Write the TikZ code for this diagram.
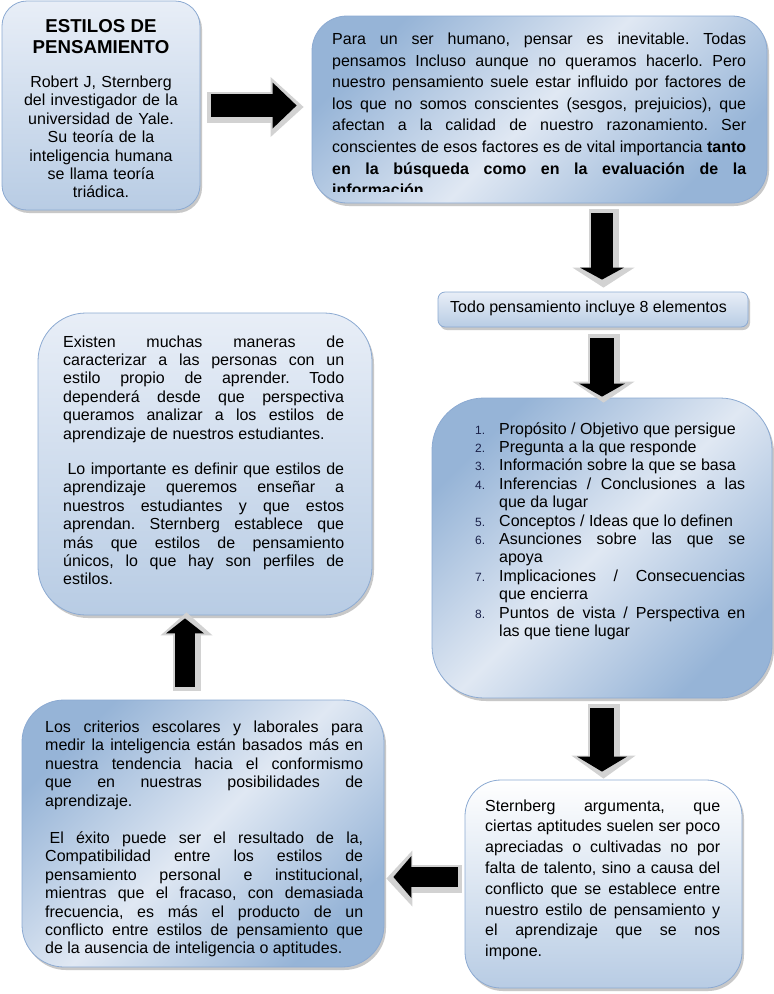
\documentclass[tikz,border=0pt]{standalone}
\usepackage{fontspec}
\setmainfont{Liberation Sans}
\usetikzlibrary{arrows.meta,shadows}
\setlength{\parindent}{0pt}
\frenchspacing

\definecolor{bordeazul}{RGB}{140,170,210}
\definecolor{azulclaro}{RGB}{232,238,247}
\definecolor{azuloscuro}{RGB}{184,204,228}
\definecolor{azuldiag}{RGB}{150,180,215}
\definecolor{azulmedio}{RGB}{224,232,243}
\definecolor{numazul}{RGB}{25,32,72}

\newcommand{\elem}[1]{\hangindent=24pt\hangafter=1\makebox[24pt][l]{\fontsize{12}{12}\selectfont\color{numazul}#1.}}

\tikzset{
  caja/.style={draw=bordeazul, line width=0.8pt, inner sep=0pt, rounded corners=#1,
    drop shadow={shadow xshift=2pt, shadow yshift=-3pt, opacity=0.3, fill=black!70}},
  vgrad/.style={top color=azulclaro, bottom color=azuloscuro},
  dgrad/.style={left color=azuldiag, right color=azuldiag, middle color=azulmedio, shading angle=45},
  texto/.style={inner sep=0pt, anchor=base west, align=justify, font=\fontsize{16}{18.4}\selectfont},
  flecha/.style={draw=black, line width=#1},
  sombra/.style={draw=gray!35, line width=#1},
}

\begin{document}
\begin{tikzpicture}[x=1pt, y=-1pt]
    \path[fill=white, use as bounding box] (0,0) rectangle (774,994);

    % cajas
    \node[caja=25pt, vgrad, minimum width=198pt, minimum height=209pt] (titulo) at (101,105.5) {};
    \node[caja=35pt, dgrad, minimum width=455pt, minimum height=187pt] (pensar) at (539.5,109.5) {};
    \node[caja=7pt, vgrad, minimum width=310pt, minimum height=35pt] (todo) at (593,309.5) {};
    \node[caja=52pt, dgrad, minimum width=340pt, minimum height=300pt] (elementos) at (602,548) {};
    \node[caja=36pt, vgrad, top color=white, minimum width=277pt, minimum height=208pt] (sternberg) at (603.5,884) {};
    \node[caja=42pt, dgrad, minimum width=362pt, minimum height=267pt] (criterios) at (203,833.5) {};
    \node[caja=48pt, vgrad, minimum width=334pt, minimum height=302pt] (existen) at (205,464) {};

    % textos
    \node[texto, anchor=base, align=center, text width=192pt] (ttitulo) at (101,32)
        {{\bfseries\fontsize{18.67}{21.5}\selectfont ESTILOS DE\\PENSAMIENTO\par}\vspace{15.6pt}%
        Robert J, Sternberg\\del investigador de la\\universidad de Yale.\\Su teoría de la\\%
        inteligencia humana\\se llama teoría\\triádica.};
    \begin{scope}
        \clip (300,0) rectangle (774,191.5);
        \node[texto, font=\fontsize{16}{21.6}\selectfont, text width=414pt] (tpensar) at (332,44.5)
            {Para un ser humano, pensar es inevitable. Todas\linebreak
            pensamos Incluso aunque no queramos hacerlo. Pero\linebreak
            nuestro pensamiento suele estar influido por factores de\linebreak
            los que no somos conscientes (sesgos, prejuicios), que\linebreak
            afectan a la calidad de nuestro razonamiento. Ser\linebreak
            conscientes de esos factores es de vital importancia \textbf{tanto\linebreak
            en la búsqueda como en la evaluación de la\linebreak
            información}};
    \end{scope}
    \node[texto] (ttodo) at (450,312.5) {Todo pensamiento incluye 8 elementos};
    \node[texto, text width=270pt] (telementos) at (475,434)
        {\elem{1}Propósito / Objetivo que persigue\par
        \elem{2}Pregunta a la que responde\par
        \elem{3}Información sobre la que se basa\par
        \elem{4}Inferencias / Conclusiones a las\linebreak que da lugar\par
        \elem{5}Conceptos / Ideas que lo definen\par
        \elem{6}Asunciones sobre las que se\linebreak apoya\par
        \elem{7}Implicaciones / Consecuencias\linebreak que encierra\par
        \elem{8}Puntos de vista / Perspectiva en\linebreak las que tiene lugar\par};
    \node[texto, font=\fontsize{16}{20.8}\selectfont, text width=235pt] (tsternberg) at (485,811)
        {Sternberg argumenta, que\linebreak
        ciertas aptitudes suelen ser poco\linebreak
        apreciadas o cultivadas no por\linebreak
        falta de talento, sino a causa del\linebreak
        conflicto que se establece entre\linebreak
        nuestro estilo de pensamiento y\linebreak
        el aprendizaje que se nos\linebreak
        impone.};
    \node[texto, text width=318pt] (tcriterios) at (45,732.5)
        {Los criterios escolares y laborales para\linebreak
        medir la inteligencia están basados más en\linebreak
        nuestra tendencia hacia el conformismo\linebreak
        que en nuestras posibilidades de\linebreak
        aprendizaje.\par\vspace{19pt}%
        \hspace*{4.4pt}El éxito puede ser el resultado de la,\linebreak
        Compatibilidad entre los estilos de\linebreak
        pensamiento personal e institucional,\linebreak
        mientras que el fracaso, con demasiada\linebreak
        frecuencia, es más el producto de un\linebreak
        conflicto entre estilos de pensamiento que\linebreak
        de la ausencia de inteligencia o aptitudes.};
    \node[texto, text width=281pt] (texisten) at (63,347)
        {Existen muchas maneras de\linebreak
        caracterizar a las personas con un\linebreak
        estilo propio de aprender. Todo\linebreak
        dependerá desde que perspectiva\linebreak
        queramos analizar a los estilos de\linebreak
        aprendizaje de nuestros estudiantes.\par\vspace{17pt}%
        \hspace*{4.4pt}Lo importante es definir que estilos de\linebreak
        aprendizaje queremos enseñar a\linebreak
        nuestros estudiantes y que estos\linebreak
        aprendan. Sternberg establece que\linebreak
        más que estilos de pensamiento\linebreak
        únicos, lo que hay son perfiles de\linebreak
        estilos.};

    % flechas
    \draw[sombra=31pt, shorten <=7pt, shorten >=8pt, -{Triangle[width=60pt,length=33pt,line width=0pt]}]
        ([yshift=-1.5pt]titulo.east) -- ([yshift=-1.5pt]titulo.east -| pensar.west);
    \draw[flecha=23pt, shorten <=11pt, shorten >=15pt, -{Triangle[width=46pt,length=24pt,line width=0pt]}]
        (titulo.east) -- (titulo.east -| pensar.west);

    \draw[sombra=30pt, shorten <=6pt, shorten >=4pt, -{Triangle[width=62pt,length=20pt,line width=0pt]}]
        ([xshift=1.5pt]pensar.south -| elementos.north) -- ([xshift=1.5pt]todo.north -| elementos.north);
    \draw[flecha=22pt, shorten <=10pt, shorten >=12pt, -{Triangle[width=44pt,length=12pt,line width=0pt]}]
        (pensar.south -| elementos.north) -- (todo.north -| elementos.north);

    \draw[sombra=32pt, shorten <=7pt, shorten >=-5pt, -{Triangle[width=62pt,length=21pt,line width=0pt]}]
        ([xshift=1.5pt]todo.south -| elementos.north) -- ([xshift=1.5pt]elementos.north);
    \draw[flecha=24pt, shorten <=11pt, shorten >=1pt, -{Triangle[width=46pt,length=13pt,line width=0pt]}]
        (todo.south -| elementos.north) -- (elementos.north);

    \draw[sombra=32pt, shorten <=6pt, shorten >=1pt, -{Triangle[width=64pt,length=23pt,line width=0pt]}]
        ([xshift=1.5pt]elementos.south) -- ([xshift=1.5pt]elementos.south |- sternberg.north);
    \draw[flecha=24pt, shorten <=10pt, shorten >=8pt, -{Triangle[width=50pt,length=15pt,line width=0pt]}]
        (elementos.south) -- (elementos.south |- sternberg.north);

    \draw[sombra=28pt, shorten <=3pt, shorten >=2pt, -{Triangle[width=56pt,length=26pt,line width=0pt]}]
        ([yshift=5.5pt]sternberg.west) -- ([yshift=5.5pt]sternberg.west -| criterios.east);
    \draw[flecha=20pt, shorten <=7pt, shorten >=9pt, -{Triangle[width=42pt,length=18pt,line width=0pt]}]
        ([yshift=7pt]sternberg.west) -- ([yshift=7pt]sternberg.west -| criterios.east);

    \draw[sombra=28pt, shorten <=9pt, shorten >=-3pt, -{Triangle[width=52pt,length=23pt,line width=0pt]}]
        ([xshift=-16.5pt]criterios.north) -- ([xshift=-16.5pt]criterios.north |- existen.south);
    \draw[flecha=20pt, shorten <=13pt, shorten >=3pt, -{Triangle[width=38pt,length=15pt,line width=0pt]}]
        ([xshift=-18pt]criterios.north) -- ([xshift=-18pt]criterios.north |- existen.south);
\end{tikzpicture}
\end{document}
